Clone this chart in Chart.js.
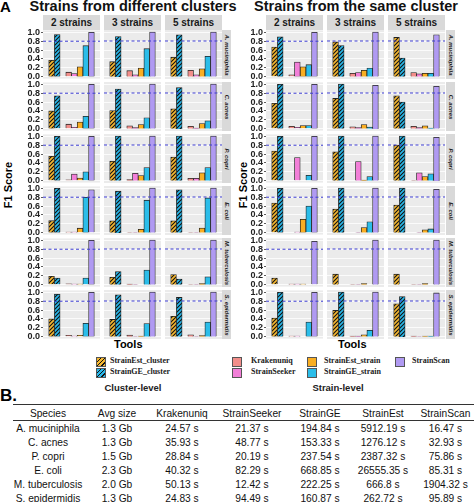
<!DOCTYPE html>
<html><head><meta charset="utf-8">
<script src="https://cdn.jsdelivr.net/npm/chart.js@4/dist/chart.umd.min.js"></script>
<style>
body{margin:0;width:474px;height:502px;position:relative;background:#fff;font-family:"Liberation Sans",Arial,sans-serif;overflow:hidden}
.a{position:absolute}
.strip{position:absolute;background:#d9d9d9;font-weight:bold;font-size:10px;color:#1a1a1a;text-align:center;line-height:15px}
.vs{position:absolute;background:#d9d9d9;overflow:hidden}
.vs span{position:absolute;left:50%;top:50%;transform:translate(-50%,-50%) rotate(90deg);white-space:nowrap;font-size:6px;font-weight:bold;font-style:italic;color:#1a1a1a}
.title{position:absolute;font-weight:bold;font-size:14.5px;color:#111;transform:translateX(-50%);white-space:nowrap}
.lg{position:absolute;font-family:"Liberation Serif","DejaVu Serif",serif;font-weight:bold;font-size:8px;color:#222;white-space:nowrap}
.box{position:absolute;width:10px;height:10px;box-sizing:border-box;border:0.5px solid #555}
table{position:absolute;left:13px;top:404px;width:461px;border-collapse:collapse;font-size:10.2px;color:#111}
th{font-weight:normal;border-top:1px solid #333;border-bottom:1px solid #333;padding:2px 0 1px 0;height:12px}
td{padding:0;height:14px;text-align:center}
</style></head><body>
<div class="a" style="left:0;top:-2px;font-weight:bold;font-size:15px">A</div>
<div class="title" style="left:133px;top:-2px">Strains from different clusters</div>
<div class="title" style="left:356px;top:-2px">Strains from the same cluster</div>
<div class="a" style="left:114px;top:338px;font-weight:bold;font-size:11px">Tools</div>
<div class="a" style="left:338px;top:338px;font-weight:bold;font-size:11px">Tools</div>
<div class="a" style="left:8px;top:185px;font-weight:bold;font-size:11px;transform:translate(-50%,-50%) rotate(-90deg);white-space:nowrap">F1 Score</div>
<div class="a" style="left:243px;top:185px;font-weight:bold;font-size:11px;transform:translate(-50%,-50%) rotate(-90deg);white-space:nowrap">F1 Score</div>
<div id="legend"></div>
<div class="a" style="left:133px;top:387px;transform:translate(-50%,-50%);font-weight:bold;font-size:9.5px;color:#222;white-space:nowrap">Cluster-level</div>
<div class="a" style="left:338px;top:387px;transform:translate(-50%,-50%);font-weight:bold;font-size:9.5px;color:#222;white-space:nowrap">Strain-level</div>
<div class="a" style="left:0;top:386px;font-weight:bold;font-size:17px">B.</div>
<table id="tbl"></table>
<div id="grid"></div>
<script>
const species = ["A. muciniphila","C. acnes","P. copri","E. coli","M. tuberculosis","S. epidermidis"];
const strainCounts = ["2 strains","3 strains","5 strains"];
const tools = ["StrainEst_cluster","StrainGE_cluster","Krakenuniq","StrainSeeker","StrainEst_strain","StrainGE_strain","StrainScan"];
const toolColors = ["#f5b731","#29b6e8","#f28e8a","#f27fd8","#f9ae22","#2bbde9","#b09af2"];
const yTicks = [0,0.2,0.4,0.6,0.8,1.0];
const threshold = 0.8;
// [species][strain count] -> F1 per tool
const diffCluster = [
 [[.37,.95,.10,.07,.22,.70,1.0],[.34,.90,.14,.05,.20,.63,1.0],[.44,.94,.15,.05,.18,.46,1.0]],
 [[.40,.74,.10,.03,.15,.28,1.0],[.41,.89,.07,.03,.10,.25,1.0],[.45,.92,.06,.02,.12,.18,1.0]],
 [[.55,1.0,.02,.15,.06,.20,1.0],[.44,1.0,.03,.17,.12,.30,1.0],[.53,1.0,.06,.06,.18,.30,1.0]],
 [[.27,1.0,.01,.01,.10,.80,.97],[.27,.93,.01,.01,.08,.73,1.0],[.27,.96,.01,.01,.11,.78,1.0]],
 [[.19,.15,.02,.01,.01,.15,1.0],[.17,.30,.02,.01,.00,.33,1.0],[.23,.13,.01,.01,.03,.18,1.0]],
 [[.40,.96,.03,.01,.03,.30,1.0],[.39,.94,.04,.01,.02,.30,1.0],[.46,.88,.05,.01,.03,.33,1.0]]
];
const sameCluster = [
 [[.67,.90,.04,.33,.22,.27,1.0],[.78,.70,.08,.10,.15,.20,1.0],[.88,.42,.10,.07,.08,.08,.94]],
 [[.57,1.0,.05,.03,.07,.07,1.0],[.68,1.0,.05,.03,.10,.04,.97],[.74,.60,.06,.03,.07,.02,.95]],
 [[.67,1.0,0,.52,0,.12,1.0],[.65,1.0,0,.43,.02,.10,1.0],[.80,1.0,.01,.18,.10,.16,.97]],
 [[.67,1.0,0,.01,.30,.60,1.0],[.53,1.0,0,.01,.12,.25,1.0],[.62,1.0,0,.01,.07,.09,.97]],
 [[.15,0,.01,.01,.01,0,.98],[.24,0,.01,.01,.03,0,1.0],[.24,0,.01,.01,.03,0,1.0]],
 [[.42,1.0,.01,.01,0,.33,1.0],[.59,1.0,.02,.02,.05,.15,1.0],[.74,.90,.02,.01,.02,.02,.98]]
];
const tableHeader = ["Species","Avg size","Krakenuniq","StrainSeeker","StrainGE","StrainEst","StrainScan"];
const avgSize = ["1.3 Gb","1.3 Gb","1.5 Gb","2.3 Gb","2.0 Gb","1.3 Gb"];
const timeKraken = ["24.57 s","35.93 s","28.84 s","40.32 s","50.13 s","24.83 s"];
const timeSeeker = ["21.37 s","48.77 s","20.19 s","82.29 s","12.42 s","94.49 s"];
const timeGE = ["194.84 s","153.33 s","237.54 s","668.85 s","222.25 s","160.87 s"];
const timeEst = ["5912.19 s","1276.12 s","2387.32 s","26555.35 s","666.8 s","262.72 s"];
const timeScan = ["16.47 s","32.93 s","75.86 s","85.31 s","1904.32 s","95.89 s"];

function hatch(color){
  const c=document.createElement('canvas');c.width=4;c.height=4;const g=c.getContext('2d');
  g.fillStyle=color;g.fillRect(0,0,4,4);g.strokeStyle='#111';g.lineWidth=1.1;
  g.beginPath();g.moveTo(0,4);g.lineTo(4,0);g.moveTo(-1,1);g.lineTo(1,-1);g.moveTo(3,5);g.lineTo(5,3);g.stroke();
  return g.createPattern(c,'repeat');
}
const fills = toolColors.map((c,i)=>i<2?hatch(c):c);

const bgPlugin={id:'bg',beforeDraw(ch){const a=ch.chartArea,x=ch.ctx;x.save();x.fillStyle='#ebebeb';x.fillRect(a.left,a.top,a.width,a.height);x.restore();},
 afterDatasetsDraw(ch){const a=ch.chartArea,x=ch.ctx,y=ch.scales.y.getPixelForValue(threshold);x.save();x.strokeStyle='#3b3bd0';x.lineWidth=1;x.setLineDash([3,2.5]);x.beginPath();x.moveTo(a.left,y);x.lineTo(a.right,y);x.stroke();x.restore();}};

const PAD=6;
const grid=document.getElementById('grid');
function panel(data,colX,stripX){
  strainCounts.forEach((s,j)=>{const d=document.createElement('div');d.className='strip';d.style.cssText=`left:${colX[j]}px;top:15px;width:57px;height:15px`;d.textContent=s;grid.appendChild(d);});
  species.forEach((sp,i)=>{
    const top=30+52*i;
    const v=document.createElement('div');v.className='vs';v.style.cssText=`left:${stripX}px;top:${top}px;width:9px;height:49px`;v.innerHTML=`<span>${sp}</span>`;grid.appendChild(v);
    strainCounts.forEach((s,j)=>{
      const first=j===0, axW=first?23:0;
      const cv=document.createElement('canvas');
      cv.width=57+axW;cv.height=49+2*PAD;cv.style.cssText=`position:absolute;left:${colX[j]-axW}px;top:${top-PAD}px`;
      grid.appendChild(cv);
      const vals=data[i][j];
      const labels=['',tools[0],tools[1],'',tools[2],tools[3],tools[4],tools[5],tools[6],''];
      const vv=[null,vals[0],vals[1],null,vals[2],vals[3],vals[4],vals[5],vals[6],null];
      const bg=[null,fills[0],fills[1],null,fills[2],fills[3],fills[4],fills[5],fills[6],null];
      new Chart(cv,{type:'bar',data:{labels,datasets:[{data:vv,backgroundColor:bg,borderColor:'#222',borderWidth:0.8,barPercentage:1,categoryPercentage:1}]},
        options:{responsive:false,animation:false,devicePixelRatio:1,layout:{padding:{top:PAD,bottom:PAD,left:0,right:0}},
          plugins:{legend:{display:false},tooltip:{enabled:false}},
          scales:{x:{display:false,offset:true},
            y:{min:-0.045,max:1.045,afterBuildTicks(sc){sc.ticks=yTicks.map(v=>({value:v}));},afterFit(sc){sc.width=axW;},
              border:{display:false},grid:{color:'#fff',lineWidth:0.8,drawTicks:first,tickLength:2,tickColor:'#333'},
              ticks:{display:first,autoSkip:false,padding:1,color:'#222',font:{family:'Liberation Sans',weight:'bold',size:9},callback:v=>Number(v).toFixed(1)}}}},
        plugins:[bgPlugin]});
    });
  });
}
panel(diffCluster,[43,104,165],222);
panel(sameCluster,[266,327,388],446);

// legend
const L=document.getElementById('legend');
function legendItem(i,x,y,tx){
  const b=document.createElement('div');b.className='box';b.style.left=x+'px';b.style.top=(y-5)+'px';
  if(i<2){b.style.background=`repeating-linear-gradient(-45deg,${toolColors[i]} 0 2px,#111 2px 3px)`;}else b.style.background=toolColors[i];
  L.appendChild(b);
  const t=document.createElement('div');t.className='lg';t.style.left=tx+'px';t.style.top=(y-6)+'px';t.textContent=tools[i];L.appendChild(t);
}
legendItem(0,96,362,110);legendItem(1,96,373,110);
legendItem(2,232,362,251);legendItem(3,232,373,251);
legendItem(4,307,362,324);legendItem(5,307,373,324);
legendItem(6,395,362,412);

// table
const T=document.getElementById('tbl');
let h='<tr>'+tableHeader.map(x=>`<th>${x}</th>`).join('')+'</tr>';
species.forEach((s,i)=>{h+=`<tr><td>${s}</td><td>${avgSize[i]}</td><td>${timeKraken[i]}</td><td>${timeSeeker[i]}</td><td>${timeGE[i]}</td><td>${timeEst[i]}</td><td>${timeScan[i]}</td></tr>`;});
T.innerHTML=h;
const cw=[70,68,62,78,58,68,57];
T.querySelectorAll('th').forEach((th,k)=>th.style.width=cw[k]+'px');
</script>
</body></html>
